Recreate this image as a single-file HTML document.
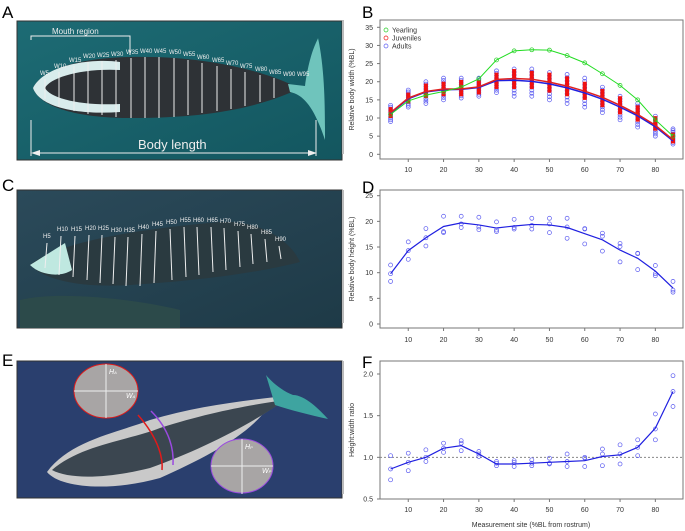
<!DOCTYPE html>
<html><head><meta charset="utf-8"><style>
body{margin:0;background:#fff;width:685px;height:531px;overflow:hidden;font-family:"Liberation Sans",sans-serif}
svg{position:absolute;left:0;top:0}
</style></head><body>
<svg id="fig" width="685" height="531" xmlns="http://www.w3.org/2000/svg" font-family="Liberation Sans, sans-serif">
<defs>
<linearGradient id="seaA" x1="0" y1="0" x2="1" y2="1"><stop offset="0" stop-color="#1d6b74"/><stop offset="1" stop-color="#13565f"/></linearGradient>
<linearGradient id="seaC" x1="0" y1="0" x2="1" y2="1"><stop offset="0" stop-color="#2b4a5a"/><stop offset="1" stop-color="#1e3a47"/></linearGradient>
</defs>
<text x="2" y="18" font-size="17">A</text>
<text x="2" y="191" font-size="17">C</text>
<text x="2" y="366" font-size="17">E</text>
<text x="362" y="18" font-size="17">B</text>
<text x="362" y="193" font-size="17">D</text>
<text x="362" y="368" font-size="17">F</text>

<g>
<rect x="17" y="21" width="325" height="139" fill="url(#seaA)" stroke="#333"/>
<path d="M33,88 C45,65 90,58 130,57 C200,55 260,70 290,84 L292,92 C250,110 200,118 130,118 C80,118 40,108 33,88Z" fill="#2e3236"/>
<path d="M288,84 L305,86 C310,50 318,40 318,38 C325,70 325,110 325,140 C315,110 305,95 290,92Z" fill="#6fc4bc"/>
<path d="M33,88 C45,65 90,58 120,62 L120,70 C80,68 50,78 45,88 C50,98 80,106 120,104 L120,112 C80,115 40,108 33,88Z" fill="#d8ecec"/>
<g stroke="#eee" stroke-width="1" fill="none">
<path d="M31,40 L31,36 L130,36 L130,55"/>
<path d="M31,120 L31,156 M316,120 L316,156"/>
<path d="M36,153 L312,153"/>
</g>
<path d="M31,153 L40,150 L40,156Z M317,153 L308,150 L308,156Z" fill="#eee"/>
<text x="52" y="34" font-size="8" fill="#eee">Mouth region</text>
<text x="138" y="149" font-size="13" fill="#eee">Body length</text>
<g id="wlines" stroke="#eee" stroke-width="1"></g>
<g id="wlabels" fill="#eee" font-size="6"></g>
</g>

<g>
<rect x="17" y="190" width="325" height="138" fill="url(#seaC)" stroke="#333"/>
<path d="M30,265 C60,240 150,228 220,222 C260,220 290,240 300,262 C250,275 180,282 130,285 C80,288 45,280 30,265Z" fill="#2a3a40"/>
<path d="M30,265 L65,243 L72,270 C60,278 40,275 30,265Z" fill="#bfe8e0"/>
<path d="M20,300 C60,290 140,300 180,310 L180,328 L20,328Z" fill="#2c4a4a"/>
<g id="hlines" stroke="#eee" stroke-width="1"></g>
<g id="hlabels" fill="#eee" font-size="6"></g>
</g>

<g>
<rect x="17" y="361" width="325" height="137" fill="#2a3f6e" stroke="#333"/>
<path d="M47,472 C70,440 120,432 150,420 C200,405 250,400 293,395 L262,415 C240,440 200,460 160,478 C110,492 60,488 47,472Z" fill="#c9c9c9"/>
<path d="M52,470 C80,445 130,440 160,428 C210,412 250,405 285,400 C250,425 200,450 150,468 C110,478 70,480 52,470Z" fill="#3b4650"/>
<path d="M266,375 C270,380 280,390 293,395 C305,395 320,410 328,419 C310,415 290,410 275,405 Z" fill="#3ea4a0"/>
<path d="M138,415 C160,440 163,460 162,470" stroke="#e01a1a" stroke-width="1.5" fill="none"/>
<path d="M151,411 C170,430 174,450 173,465" stroke="#9a4ae0" stroke-width="1.5" fill="none"/>
<ellipse cx="106" cy="391" rx="32" ry="27" fill="#a8a5a5" stroke="#e01a1a" stroke-width="1"/>
<path d="M74,391 H138 M106,364 V418" stroke="#eee"/>
<text x="109" y="374" font-size="7" fill="#fff" font-style="italic">H<tspan font-size="4">A</tspan></text>
<text x="126" y="398" font-size="7" fill="#fff" font-style="italic">W<tspan font-size="4">A</tspan></text>
<ellipse cx="242" cy="466" rx="31" ry="27" fill="#a8a5a5" stroke="#9a4ae0" stroke-width="1"/>
<path d="M211,466 H273 M242,439 V494" stroke="#eee"/>
<text x="245" y="449" font-size="7" fill="#fff" font-style="italic">H<tspan font-size="4">P</tspan></text>
<text x="262" y="473" font-size="7" fill="#fff" font-style="italic">W<tspan font-size="4">P</tspan></text>
</g>

<g id="chartB"></g>
<g id="chartD"></g>
<g id="chartF"></g>
</svg>
<script>
const sites=[5,10,15,20,25,30,35,40,45,50,55,60,65,70,75,80,85];
const xTicks=[10,20,30,40,50,60,70,80];
const yearling=[11,14.7,16.3,17.3,18.5,20.8,26,28.5,28.8,28.7,27.2,25.2,22.2,19,15,9.5,5];
const juveniles=[11.5,15.5,17.3,18,18,18.6,20.6,20.9,20.7,19.9,18.8,17.4,15.7,13.5,11,8,4];
const adults=[11.3,15.3,17.2,17.8,17.9,18.4,20.3,20.4,20.1,19.4,18.3,16.9,15.2,13,10.6,7.6,3.7];
const adultMin=[9,13,14,15,15.5,16,17,16,16,15,14,13,11.5,9.5,7.5,5,2.8];
const adultMax=[13.5,17.7,20,21,21,21,23,23.5,23.5,22.5,22,21,18.5,16,14,10.5,7];
const juvMin=[10,14,15.5,16,16,16.5,18,18,18,17,16,15,13,11,9,6.5,3];
const juvMax=[13,17,19.5,20,20.5,20.5,22.5,23.5,23,22.5,21.5,20,18,16,13.5,10.5,6];
const bTicks=[0,5,10,15,20,25,30,35];
const heightFit=[9.8,14.3,16.8,19,19.7,19.3,18.7,19.1,19.4,19.3,18.8,17.6,16.4,14.4,12.8,10.3,7];
const heightPts=[[11.5,9.8,8.3],[16,14.3,12.6],[18.6,16.8,15.2],[21,18,17.8],[21,19.5,18.8],[20.8,18.9,18.4],[19.9,18.3,18],[20.4,18.8,18.5],[20.6,19.2,18.5],[20.6,19.5,17.8],[20.6,18.9,16.7],[18.6,18.5,15.6],[17.7,17.1,14.2],[15.7,15.1,12.1],[13.8,13.7,10.6],[11.4,9.8,9.4],[8.3,6.6,6.2]];
const dTicks=[0,5,10,15,20,25];
const ratioFit=[0.86,0.94,1.0,1.11,1.14,1.04,0.92,0.92,0.93,0.94,0.95,0.96,1.01,1.03,1.12,1.35,1.79];
const ratioPts=[[1.02,0.86,0.73],[1.05,0.94,0.84],[1.09,1.0,0.95],[1.17,1.11,1.06],[1.2,1.17,1.08],[1.07,1.04,1.01],[0.95,0.93,0.9],[0.96,0.94,0.89],[0.97,0.93,0.9],[0.99,0.93,0.92],[1.04,0.95,0.89],[1.0,0.99,0.89],[1.1,1.04,0.9],[1.15,1.04,0.92],[1.21,1.12,1.02],[1.52,1.34,1.21],[1.98,1.79,1.61]];
const fTicks=[0.5,1.0,1.5,2.0];

const NS="http://www.w3.org/2000/svg";
function mk(parent,tag,attrs,text){const e=document.createElementNS(NS,tag);for(const k in attrs)e.setAttribute(k,attrs[k]);if(text!==undefined)e.textContent=text;parent.appendChild(e);return e;}
const xs=v=>390.6+(v-5)*3.53;

function frame(g,top,bottom,ticks,ys,fmt,title,labelY){
  const box=mk(g,'rect',{x:380,y:top,width:303,height:bottom-top,fill:'none',stroke:'#777','stroke-width':1});
  
  
  ticks.forEach(t=>{
    mk(g,'line',{x1:377,x2:380,y1:ys(t),y2:ys(t),stroke:'#777'});
    const tl=mk(g,'text',{x:373,y:ys(t)+2.5,'font-size':7,'text-anchor':'end',fill:'#333'},fmt(t));
    
    
  });
  xTicks.forEach(t=>{
    mk(g,'line',{x1:xs(t),x2:xs(t),y1:bottom,y2:bottom+3,stroke:'#777'});
    const tl=mk(g,'text',{x:xs(t),y:labelY,'font-size':7,'text-anchor':'middle',fill:'#333'},String(t));
    
    
  });
  const yc=(top+bottom)/2;
  const at=mk(g,'text',{x:354,y:yc,'font-size':7,'text-anchor':'middle',fill:'#333',transform:`rotate(-90 354 ${yc})`},title);
  
  
  mk(g,'line',{x1:343,x2:343,y1:top,y2:bottom-5,stroke:'#bbb','stroke-width':2});
}
function line(g,vals,ys,color,w,name){
  const p=mk(g,'polyline',{points:vals.map((v,i)=>xs(sites[i])+','+ys(v)).join(' '),fill:'none',stroke:color,'stroke-width':w});
  
  
}
function pt(g,x,y,color,name){
  const c=mk(g,'circle',{cx:x,cy:y,r:2,fill:'none',stroke:color,'stroke-width':0.7});
  
  
}

(function(){
  const g=document.getElementById('chartB');
  const ys=v=>154.3-v*(127/35);
  frame(g,20,159,bTicks,ys,t=>String(t),'Relative body width (%BL)',172);
  sites.forEach((s,i)=>{
    for(let k=0;k<=9;k++){const v=adultMin[i]+(adultMax[i]-adultMin[i])*k/9;pt(g,xs(s),ys(v),'#5a5af0','adult-point');}
    const b=mk(g,'line',{x1:xs(s),x2:xs(s),y1:ys(juvMin[i]),y2:ys(juvMax[i]),stroke:'#f01010','stroke-width':4});
    
    
    pt(g,xs(s),ys(yearling[i]),'#22cc22','yearling-point');
  });
  line(g,adults,ys,'#2020e0',1.5,'adults-line');
  line(g,juveniles,ys,'#e02020',1.5,'juveniles-line');
  line(g,yearling,ys,'#22dd22',1,'yearling-line');
  [['Yearling','#22cc22',30],['Juveniles','#f01010',38],['Adults','#5a5af0',46]].forEach(([n,c,y])=>{
    pt(g,386,y,c,'legend-marker');
    const t=mk(g,'text',{x:392,y:y+2.5,'font-size':7,fill:'#333'},n);
    
    
  });
})();

(function(){
  const g=document.getElementById('chartD');
  const ys=v=>324-v*(128.3/25);
  frame(g,190,328,dTicks,ys,t=>String(t),'Relative body height (%BL)',342);
  sites.forEach((s,i)=>heightPts[i].forEach(v=>pt(g,xs(s),ys(v),'#5a5af0','height-point')));
  line(g,heightFit,ys,'#2020e0',1.2,'height-fit-line');
})();

(function(){
  const g=document.getElementById('chartF');
  const ys=v=>499-(v-0.5)*(125/1.5);
  frame(g,361,499,fTicks,ys,t=>t.toFixed(1),'Height:width ratio',512);
  const d=mk(g,'line',{x1:380,x2:683,y1:ys(1),y2:ys(1),stroke:'#888','stroke-dasharray':'2,2'});
  
  
  sites.forEach((s,i)=>ratioPts[i].forEach(v=>pt(g,xs(s),ys(v),'#5a5af0','ratio-point')));
  line(g,ratioFit,ys,'#2020e0',1.2,'ratio-fit-line');
  const xt=mk(g,'text',{x:531,y:527,'font-size':7,'text-anchor':'middle',fill:'#333'},'Measurement site (%BL from rostrum)');
  
  
})();

(function(){
  const wl=document.getElementById('wlines'), wt=document.getElementById('wlabels');
  const wx=[45,59,74,88,102,116,131,145,159,174,188,202,217,231,245,260,274,288,302];
  const wlab=['5','10','15','20','25','30','35','40','45','50','55','60','65','70','75','80','85','90','95'];
  const tops=[79,72,66,62,61,60,58,57,57,58,60,63,66,69,72,75,78,80,80];
  const bots=[99,107,111,114,115,117,118,118,118,117,115,113,111,109,106,102,98,95,94];
  wx.slice(0,17).forEach((x,i)=>{mk(wl,'line',{x1:x,x2:x,y1:tops[i],y2:bots[i]});});
  wx.forEach((x,i)=>{mk(wt,'text',{x:x-5,y:tops[i]-4},'W'+wlab[i]);});
  const hl=document.getElementById('hlines'), ht=document.getElementById('hlabels');
  const hx=[47,61,75,89,102,115,128,142,156,170,184,197,211,224,238,251,265,279];
  const ht0=[243,236,236,235,235,237,237,234,231,229,227,227,227,228,231,234,239,246];
  const hb0=[268,275,277,280,283,284,286,286,283,280,277,275,272,270,267,264,262,259];
  hx.forEach((x,i)=>{mk(hl,'line',{x1:x,x2:x+(i<9?-2:2),y1:ht0[i],y2:hb0[i]});
    mk(ht,'text',{x:x-4,y:ht0[i]-5},'H'+wlab[i]);});
})();
</script>
</body></html>
